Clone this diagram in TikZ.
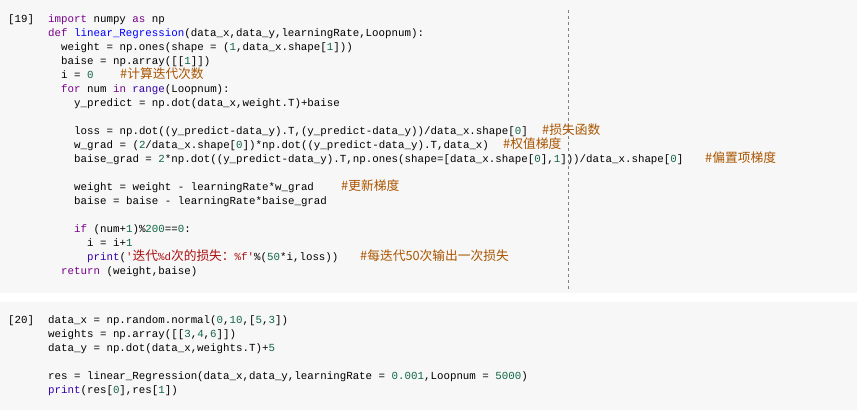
\documentclass[tikz,border=0pt]{standalone}
\usepackage{fontspec}
\setmonofont{Liberation Mono}
\newfontfamily\cjk[Scale=1.18]{Noto Sans CJK SC}
\definecolor{bgc}{HTML}{F7F7F7}
\definecolor{kwc}{HTML}{770088}
\definecolor{fnc}{HTML}{0000FF}
\definecolor{bic}{HTML}{3300AA}
\definecolor{nmc}{HTML}{116644}
\definecolor{cmc}{HTML}{AA5500}
\definecolor{stc}{HTML}{AA1111}
\newcommand{\kw}[1]{\textcolor{kwc}{#1}}
\newcommand{\fnm}[1]{\textcolor{fnc}{#1}}
\newcommand{\bi}[1]{\textcolor{bic}{#1}}
\newcommand{\nm}[1]{\textcolor{nmc}{#1}}
\newcommand{\cm}[1]{\textcolor{cmc}{\cjk #1}}
\newcommand{\stq}[1]{\textcolor{stc}{#1}}
\begin{document}
\begin{tikzpicture}[x=1pt,y=-1pt,
  code/.style={anchor=base west,inner sep=0pt,font=\fontsize{10.8}{12}\ttfamily,text=black}]
\useasboundingbox (0,0) rectangle (857,410);
\fill[white] (0,0) rectangle (857,410);
\fill[bgc] (0,0) rectangle (857,293);
\fill[bgc] (0,302) rectangle (857,410);
\draw[gray,dashed] (568,10) -- (568,290);
\node[code] (p19) at (8,22.5) {[19]};
\node[code] (l1) at (48,22.5) {\kw{import} numpy \kw{as} np};
\node[code] (l2) at (48,36.5) {\kw{def} \fnm{linear\_Regression}(data\_x,data\_y,learningRate,Loopnum):};
\node[code] (l3) at (61,50.5) {weight = np.ones(shape = (\nm{1},data\_x.shape[\nm{1}]))};
\node[code] (l4) at (61,64.5) {baise = np.array([[\nm{1}]])};
\node[code] (l5) at (61,78.5) {i = \nm{0}};
\node[code] (c5) at (120,78.5) {\cm{\#计算迭代次数}};
\node[code] (l6) at (61,92.5) {\kw{for} num \kw{in} \bi{range}(Loopnum):};
\node[code] (l7) at (74,106.5) {y\_predict = np.dot(data\_x,weight.T)+baise};
\node[code] (l8) at (74,134.5) {loss = np.dot((y\_predict-data\_y).T,(y\_predict-data\_y))/data\_x.shape[\nm{0}]};
\node[code] (c8) at (542,134.5) {\cm{\#损失函数}};
\node[code] (l9) at (74,148.5) {w\_grad = (\nm{2}/data\_x.shape[\nm{0}])*np.dot((y\_predict-data\_y).T,data\_x)};
\node[code] (c9) at (503,148.5) {\cm{\#权值梯度}};
\node[code] (l10) at (74,162.5) {baise\_grad = \nm{2}*np.dot((y\_predict-data\_y).T,np.ones(shape=[data\_x.shape[\nm{0}],\nm{1}]))/data\_x.shape[\nm{0}]};
\node[code] (c10) at (705,162.5) {\cm{\#偏置项梯度}};
\node[code] (l11) at (74,190.5) {weight = weight - learningRate*w\_grad};
\node[code] (c11) at (341,190.5) {\cm{\#更新梯度}};
\node[code] (l12) at (74,204.5) {baise = baise - learningRate*baise\_grad};
\node[code] (l13) at (74,232.5) {\kw{if} (num+\nm{1})\%\nm{200}==\nm{0}:};
\node[code] (l14) at (87,246.5) {i = i+\nm{1}};
\node[code] (l15) at (87,260.5) {\bi{print}(\stq{'{\cjk 迭代}\%d{\cjk 次的损失：}\%f'}\%(\nm{50}*i,loss))};
\node[code] (c15) at (360,260.5) {\cm{\#每迭代50次输出一次损失}};
\node[code] (l16) at (61,274.5) {\kw{return} (weight,baise)};
\node[code] (p20) at (8,323.5) {[20]};
\node[code] (m1) at (48,323.5) {data\_x = np.random.normal(\nm{0},\nm{10},[\nm{5},\nm{3}])};
\node[code] (m2) at (48,337.5) {weights = np.array([[\nm{3},\nm{4},\nm{6}]])};
\node[code] (m3) at (48,351.5) {data\_y = np.dot(data\_x,weights.T)+\nm{5}};
\node[code] (m4) at (48,379.5) {res = linear\_Regression(data\_x,data\_y,learningRate = \nm{0.001},Loopnum = \nm{5000})};
\node[code] (m5) at (48,393.5) {\bi{print}(res[\nm{0}],res[\nm{1}])};
\end{tikzpicture}
\end{document}
